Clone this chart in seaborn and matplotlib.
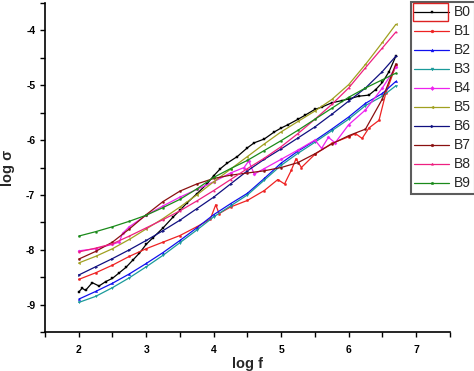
import matplotlib
matplotlib.use("Agg")
import matplotlib.pyplot as plt
import matplotlib.patches as patches
from matplotlib.ticker import MultipleLocator
import seaborn as sns

# common log f grid for the smooth curves
log_f = [2.0, 2.25, 2.5, 2.75, 3.0, 3.25, 3.5, 3.75, 4.0, 4.25,
         4.5, 4.75, 5.0, 5.25, 5.5, 5.75, 6.0, 6.25, 6.5, 6.7]

# noisy curves have their own x points
b0_x = [2.0, 2.05, 2.1, 2.2, 2.3, 2.4, 2.5, 2.6, 2.7, 2.8, 2.9, 3.0, 3.1, 3.25,
        3.4, 3.5, 3.6, 3.75, 3.9, 4.0, 4.1, 4.2, 4.35, 4.5, 4.6, 4.75, 4.9,
        5.0, 5.1, 5.25, 5.35, 5.5, 5.6, 5.75, 5.9, 6.0, 6.15, 6.3, 6.4, 6.5,
        6.6, 6.7]
b0_y = [-8.77, -8.70, -8.74, -8.60, -8.66, -8.58, -8.52, -8.42, -8.32, -8.19,
        -8.06, -7.90, -7.78, -7.60, -7.40, -7.28, -7.15, -6.98, -6.80, -6.65,
        -6.52, -6.42, -6.30, -6.14, -6.05, -5.98, -5.85, -5.78, -5.72, -5.62,
        -5.55, -5.44, -5.40, -5.32, -5.28, -5.25, -5.20, -5.18, -5.08, -4.95,
        -4.75, -4.47]

b1_x = [2.0, 2.25, 2.5, 2.75, 3.0, 3.25, 3.5, 3.75, 3.95, 4.03, 4.08, 4.25,
        4.5, 4.75, 4.95, 5.05, 5.15, 5.22, 5.3, 5.5, 5.75, 6.0, 6.1, 6.2,
        6.3, 6.45, 6.55, 6.7]
b1_y = [-8.54, -8.42, -8.28, -8.12, -7.98, -7.86, -7.74, -7.58, -7.44, -7.18,
        -7.34, -7.22, -7.10, -6.92, -6.72, -6.80, -6.55, -6.34, -6.50, -6.26,
        -6.06, -5.94, -5.88, -5.97, -5.78, -5.64, -5.15, -4.64]

b4_x = [2.0, 2.25, 2.5, 2.6, 2.65, 2.75, 3.0, 3.25, 3.5, 3.75, 4.0, 4.25,
        4.45, 4.52, 4.6, 4.75, 5.0, 5.25, 5.5, 5.6, 5.7, 5.8, 6.0, 6.25, 6.5,
        6.7]
b4_y = [-8.02, -7.98, -7.90, -7.86, -7.70, -7.58, -7.37, -7.20, -7.04, -6.90,
        -6.76, -6.60, -6.50, -6.38, -6.62, -6.52, -6.35, -6.18, -6.00, -6.15,
        -5.95, -6.05, -5.72, -5.45, -5.05, -4.67]

b2_y = [-8.90, -8.76, -8.61, -8.44, -8.25, -8.05, -7.83, -7.60, -7.36, -7.16,
        -6.97, -6.70, -6.42, -6.20, -6.01, -5.80, -5.58, -5.33, -5.15, -4.93]
b3_y = [-8.96, -8.85, -8.69, -8.51, -8.31, -8.10, -7.87, -7.64, -7.40, -7.20,
        -7.00, -6.73, -6.46, -6.24, -6.04, -5.83, -5.62, -5.37, -5.20, -5.01]
b5_y = [-8.24, -8.12, -7.98, -7.81, -7.62, -7.43, -7.22, -7.00, -6.76, -6.53,
        -6.30, -6.07, -5.85, -5.66, -5.47, -5.26, -4.99, -4.62, -4.22, -3.89]
b6_y = [-8.46, -8.31, -8.16, -8.00, -7.83, -7.65, -7.46, -7.25, -7.04, -6.80,
        -6.56, -6.35, -6.16, -5.96, -5.76, -5.53, -5.29, -5.05, -4.75, -4.47]
b7_y = [-8.17, -8.03, -7.86, -7.62, -7.36, -7.12, -6.93, -6.80, -6.70, -6.64,
        -6.60, -6.56, -6.50, -6.41, -6.25, -6.07, -5.92, -5.80, -5.25, -4.61]
b8_y = [-8.04, -7.97, -7.89, -7.75, -7.60, -7.45, -7.29, -7.11, -6.92, -6.72,
        -6.52, -6.33, -6.12, -5.88, -5.62, -5.35, -5.05, -4.68, -4.32, -4.03]
b9_y = [-7.75, -7.67, -7.58, -7.48, -7.37, -7.23, -7.08, -6.89, -6.68, -6.52,
        -6.37, -6.19, -6.01, -5.82, -5.62, -5.42, -5.22, -5.05, -4.90, -4.78]

labels = ["B0", "B1", "B2", "B3", "B4", "B5", "B6", "B7", "B8", "B9"]
colors = ["#000000", "#ee2222", "#1010ee", "#1a9a9a", "#ee22ee",
          "#a0a020", "#101080", "#8a1010", "#ee2080", "#1a8a1a"]
markers = ["s", "o", "^", "v", "D", "<", ">", "h", "*", "p"]

series = [
    (b0_x, b0_y), (b1_x, b1_y), (log_f, b2_y), (log_f, b3_y), (b4_x, b4_y),
    (log_f, b5_y), (log_f, b6_y), (log_f, b7_y), (log_f, b8_y), (log_f, b9_y),
]

sns.set_style("ticks")
plt.rcParams["font.family"] = ["Liberation Sans", "DejaVu Sans"]
plt.rcParams["font.weight"] = "bold"
plt.rcParams["axes.unicode_minus"] = False

fig = plt.figure(figsize=(4.74, 3.71), dpi=100)
ax = fig.add_axes([0.095, 0.105, 0.854, 0.887])

for (xs, ys), lab, c, m in zip(series, labels, colors, markers):
    sns.lineplot(x=xs, y=ys, ax=ax, color=c, marker=m, markersize=1.6,
                 markeredgewidth=0.3, markeredgecolor=c, linewidth=0.9,
                 label=lab, sort=False)

ax.set_xlim(1.5, 7.5)
ax.set_ylim(-9.5, -3.5)
ax.xaxis.set_major_locator(MultipleLocator(1))
ax.xaxis.set_minor_locator(MultipleLocator(0.5))
ax.yaxis.set_major_locator(MultipleLocator(1))
ax.yaxis.set_minor_locator(MultipleLocator(0.5))
ax.tick_params(which="both", direction="out", length=3.5, width=1,
               labelsize=7.5, colors="black")
ax.tick_params(axis="x", pad=6)
for t in ax.get_xticklabels() + ax.get_yticklabels():
    t.set_fontweight("bold")
sns.despine(ax=ax)
for s in ["left", "bottom"]:
    ax.spines[s].set_linewidth(1.2)
    ax.spines[s].set_color("black")

ax.set_xlabel("log f", fontsize=10.5, fontweight="bold", labelpad=1)
ax.set_ylabel("log σ", fontsize=10.5, fontweight="bold", labelpad=8)

leg = ax.legend(loc="upper left", bbox_to_anchor=(411 / 474, 1 - 2 / 371),
                bbox_transform=fig.transFigure, fontsize=10, frameon=True,
                fancybox=False, handlelength=2.5, handletextpad=0.35,
                labelspacing=0.36, borderpad=0.25, borderaxespad=0,
                markerscale=1.3)
leg.get_frame().set_edgecolor("#333333")
leg.get_frame().set_linewidth(1.5)
for t in leg.get_texts():
    t.set_fontweight("normal")

# selection box around the first legend entry
fig.add_artist(patches.Rectangle((413 / 474, 1 - 21 / 371), 35 / 474, 18 / 371,
                                 transform=fig.transFigure, fill=False,
                                 edgecolor="#dd2222", linewidth=1))

fig.savefig("out.png", dpi=100)
